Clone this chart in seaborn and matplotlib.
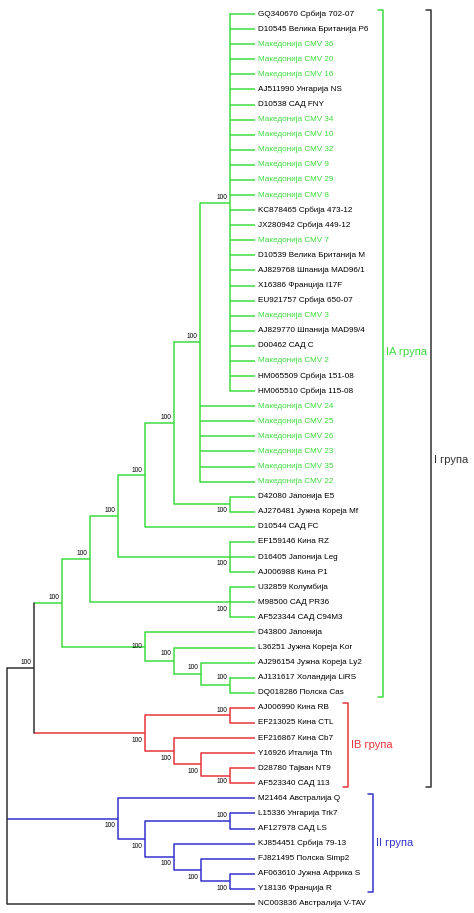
import matplotlib
matplotlib.use("Agg")
import matplotlib.pyplot as plt
import seaborn as sns

sns.set_theme(style="white")
plt.rcParams['font.family'] = ['Liberation Sans', 'DejaVu Sans']

GREEN = "#3ddc3d"; RED = "#e8363a"; BLUE = "#3434cc"; BLACK = "#333333"

# Leaves, top to bottom
mac = "Македонија CMV "
leaves_G = ["GQ340670 Србија 702-07", "D10545 Велика Британија P6", mac+"36", mac+"20", mac+"16",
            "AJ511990 Унгарија NS", "D10538 САД FNY", mac+"34", mac+"10", mac+"32", mac+"9", mac+"29",
            mac+"8", "KC878465 Србија 473-12", "JX280942 Србија 449-12", mac+"7",
            "D10539 Велика Британија M", "AJ829768 Шпанија MAD96/1", "X16386 Франција I17F",
            "EU921757 Србија 650-07", mac+"3", "AJ829770 Шпанија MAD99/4", "D00462 САД C", mac+"2",
            "HM065509 Србија 151-08", "HM065510 Србија 115-08"]
leaves_F = [mac+"24", mac+"25", mac+"26", mac+"23", mac+"35", mac+"22"]

# Node: (depth, bootstrap, label offset in rows, colour, children)
def N(x, b, off, ch, c=None):
    return {"x": x, "b": b, "off": off, "ch": ch, "c": c}

G = N(230, "100", -0.35, leaves_G)
F = N(200, "100", -0.35, [G] + leaves_F)
E = N(174, "100", -0.4, [F, N(230, "100", 0.4, ["D42080 Јапонија E5", "AJ276481 Јужна Кореја Mf"])])
D = N(145, "100", -0.3, [E, "D10544 САД FC"])
C = N(118, "100", -0.4, [D, N(230, "100", 0.4, ["EF159146 Кина RZ", "D16405 Јапонија Leg", "AJ006988 Кина P1"])])
B = N(90, "100", -0.35, [C, N(230, "100", 0.45, ["U32859 Колумбија", "M98500 САД PR36", "AF523344 САД C94M3"])])
K = N(230, "100", -0.5, ["AJ131617 Холандија LiRS", "DQ018286 Полска Cas"])
J = N(201, "100", -0.45, ["AJ296154 Јужна Кореја Ly2", K])
I = N(174, "100", -0.5, ["L36251 Јужна Кореја Kor", J])
H = N(145, "100", 0.0, ["D43800 Јапонија", I])
IA = N(62, "100", -0.35, [B, H], GREEN)

O = N(230, "100", 0.4, ["D28780 Тајван NT9", "AF523340 САД 113"])
Nn = N(201, "100", 0.45, ["Y16926 Италија Tfn", O])
M = N(174, "100", 0.45, ["EF216867 Кина Cb7", Nn])
L = N(230, "100", -0.35, ["AJ006990 Кина RB", "EF213025 Кина CTL"])
IB = N(145, "100", 0.45, [L, M], RED)

A = N(34, "100", -0.35, [IA, IB], BLACK)

T = N(230, "100", 0.45, ["AF063610 Јужна Африка S", "Y18136 Франција R"])
S = N(201, "100", 0.5, ["FJ821495 Полска Simp2", T])
R = N(174, "100", 0.45, ["KJ854451 Србија 79-13", S])
Q = N(230, "100", -0.35, ["L15336 Унгарија Trk7", "AF127978 САД LS"])
P = N(145, "100", 0.5, [Q, R])
II = N(118, "100", 0.45, ["M21464 Австралија Q", P], BLUE)

root = N(7, None, 0, [A, II, "NC003836 Австралија V-TAV"], BLACK)

TIP = 255
LW = 1.1
fig = plt.figure(figsize=(4.74, 9.13), dpi=100)
ax = fig.add_axes([0, 0, 1, 1])
ax.set_xlim(0, 474)
ax.set_ylim(59 + 9 / 15.08, -14 / 15.08)
ax.axis("off")

counter = [0]
def layout(node, color):
    if isinstance(node, str):
        y = counter[0]; counter[0] += 1
        ax.text(TIP + 3, y, node, fontsize=5.9, va="center", ha="left",
                color=GREEN if node.startswith("Македонија") else "black")
        return y, TIP
    col = node["c"] or color
    ys = []
    for ch in node["ch"]:
        cy, cx = layout(ch, col)
        ccol = col if isinstance(ch, str) else (ch["c"] or col)
        ax.plot([node["x"], cx], [cy, cy], color=ccol, lw=LW, solid_capstyle="butt")
        ys.append(cy)
    y = (ys[0] + ys[-1]) / 2
    ax.plot([node["x"], node["x"]], [ys[0], ys[-1]], color=col, lw=LW)
    if node["b"]:
        ax.text(node["x"] - 3, y + node["off"], node["b"], fontsize=4.7,
                ha="right", va="center", color="black")
    return y, node["x"]

layout(root, BLACK)

def px(y):  # pixel row to data row
    return (y - 14) / 15.08

def bracket(x, y0, y1, color, text, ty):
    ax.plot([x - 5, x, x, x - 5], [px(y0), px(y0), px(y1), px(y1)], color=color, lw=LW)
    ax.text(x + 3, px(ty), text, color=color, fontsize=8, va="center", ha="left")

bracket(383, 10, 697, GREEN, "IA група", 352)
bracket(348, 703, 787, RED, "IB група", 745)
bracket(431, 10, 787, BLACK, "I група", 460)
bracket(373, 794, 892, BLUE, "II група", 843)

fig.savefig("out.png", dpi=100, facecolor="white")
